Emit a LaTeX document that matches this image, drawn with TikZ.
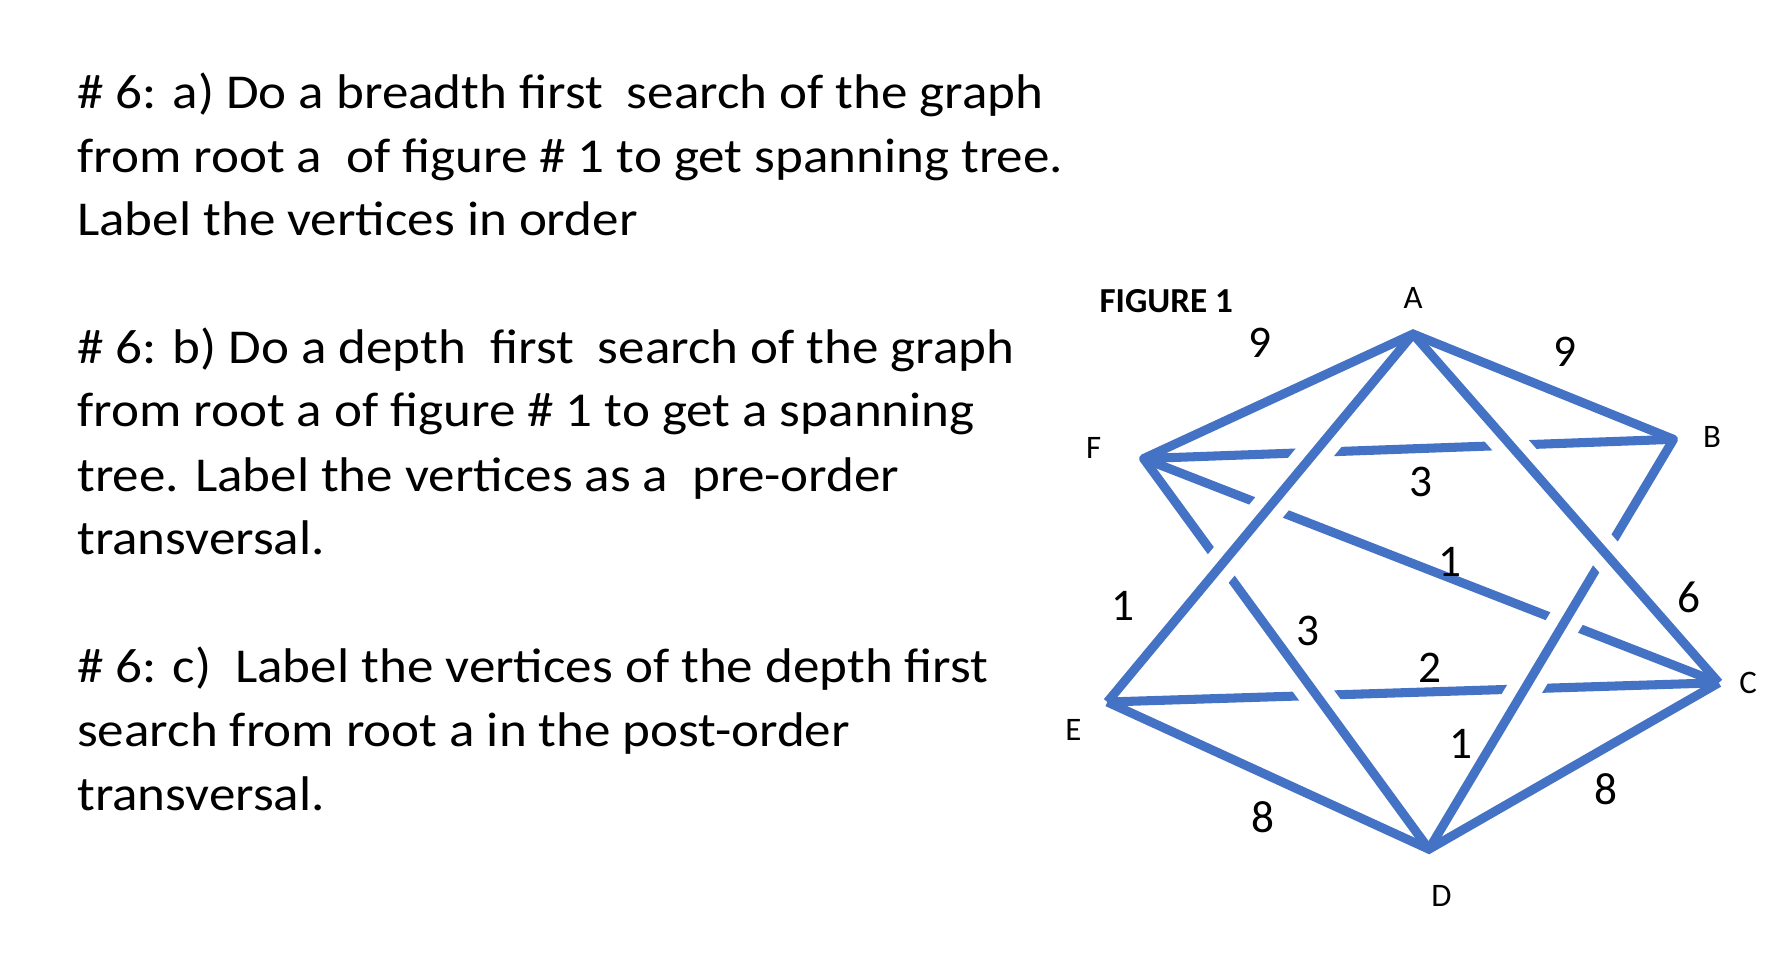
\documentclass[tikz,border=0pt]{standalone}
\usepackage{fontspec}
\setmainfont{Carlito}
\newfontfamily\widefont[FakeStretch=1.09]{Carlito}
\begin{document}
\begin{tikzpicture}[x=1pt,y=-1pt,
  edge/.style={line width=8pt,draw={rgb,255:red,68;green,114;blue,196}},
  casing/.style={line width=30pt,draw=white,shorten >=70pt,shorten <=70pt},
  txt/.style={anchor=base west,inner sep=0pt,font=\widefont\fontsize{43}{52}\selectfont},
  wt/.style={font=\fontsize{40}{48}\selectfont,inner sep=0pt},
  vl/.style={font=\fontsize{29}{34}\selectfont,inner sep=0pt}]
\useasboundingbox (0,0) rectangle (1565,846);
\node[txt] (t1) at (68,96) {\# 6: a) Do a breadth first\ \ search of the graph};
\node[txt] (t2) at (68,152) {from root a\ \ of figure \# 1 to get spanning tree.};
\node[txt] (t3) at (68,208) {Label the vertices in order};
\node[txt] (t4) at (68,321) {\# 6: b) Do a depth\ \ first\ \ search of the graph};
\node[txt] (t5) at (68,377) {from root a of figure \# 1 to get a spanning};
\node[txt] (t6) at (68,434) {tree. Label the vertices as a\ \ pre-order};
\node[txt] (t7) at (68,490) {transversal.};
\node[txt] (t8) at (68,603) {\# 6: c)\ \ Label the vertices of the depth first};
\node[txt] (t9) at (68,659) {search from root a in the post-order};
\node[txt] (t10) at (68,716) {transversal.};
\coordinate (A) at (1248,295);
\coordinate (B) at (1478,388);
\coordinate (F) at (1010,405);
\coordinate (C) at (1518,603);
\coordinate (E) at (978,620);
\coordinate (D) at (1262,750);
\draw[edge] (F) -- (B);
\draw[edge] (F) -- (C);
\draw[edge] (E) -- (C);
\draw[casing] (F) -- (D); \draw[edge] (F) -- (D);
\draw[casing] (B) -- (D); \draw[edge] (B) -- (D);
\draw[casing] (A) -- (E); \draw[edge] (A) -- (E);
\draw[casing] (A) -- (C); \draw[edge] (A) -- (C);
\draw[edge,line cap=round] (F) -- (A) -- (B);
\draw[edge] (E) -- (D) -- (C);
\node[font=\bfseries\fontsize{31}{36}\selectfont,inner sep=0pt] (fig) at (1030,266) {FIGURE 1};
\node[vl] (lA) at (1248,263) {A};
\node[vl] (lB) at (1512,386) {B};
\node[vl] (lC) at (1544,603) {C};
\node[vl] (lD) at (1273,791) {D};
\node[vl] (lE) at (948,645) {E};
\node[vl] (lF) at (966,396) {F};
\node[wt] (w1) at (1113,303) {9};
\node[wt] (w2) at (1382,311) {9};
\node[wt] (w3) at (1255,426) {3};
\node[wt] (w4) at (1281,496) {1};
\node[wt] (w5) at (1492,528) {6};
\node[wt] (w6) at (992,535) {1};
\node[wt] (w7) at (1155,557) {3};
\node[wt] (w8) at (1263,590) {2};
\node[wt] (w9) at (1290,657) {1};
\node[wt] (w10) at (1418,697) {8};
\node[wt] (w11) at (1115,722) {8};
\end{tikzpicture}
\end{document}
